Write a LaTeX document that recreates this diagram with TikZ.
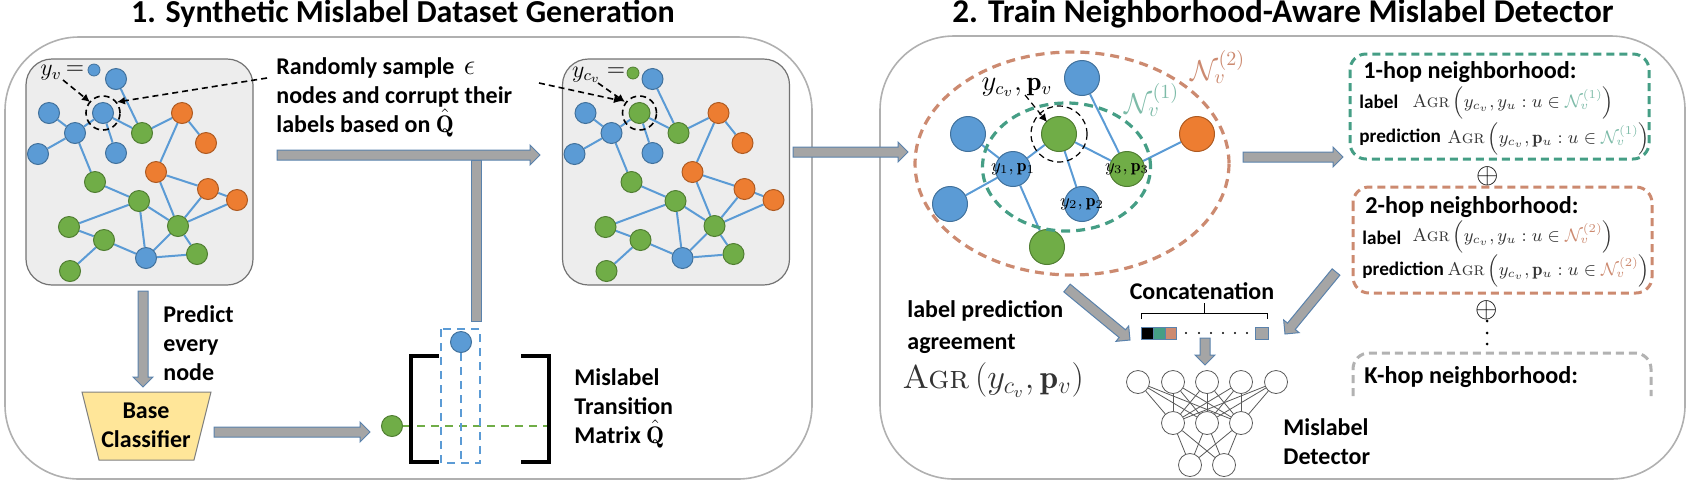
\documentclass[tikz,border=0pt]{standalone}
\usepackage{amsmath}
\usepackage{fontspec}
\usetikzlibrary{shapes.geometric,arrows.meta,calc,backgrounds}
\newfontfamily\calib{Carlito}
\definecolor{nblue}{HTML}{5B9BD5}
\definecolor{ngreen}{HTML}{70AD47}
\definecolor{norange}{HTML}{ED7D31}
\definecolor{bblue}{HTML}{41719C}
\definecolor{bgreen}{HTML}{507E32}
\definecolor{borange}{HTML}{AE5A21}
\definecolor{teal1}{HTML}{459E85}
\definecolor{teal2}{HTML}{7DBBA8}
\definecolor{brown1}{HTML}{CC8A70}
\definecolor{arrowf}{HTML}{A5A5A5}
\definecolor{arrowb}{HTML}{5A82AC}
\definecolor{boxg}{HTML}{EDEDED}
\definecolor{outerg}{HTML}{B0B0B0}
\definecolor{mathg}{HTML}{333333}
\definecolor{clfy}{HTML}{FFE699}
\tikzset{
  bn/.style={circle,draw=bblue,fill=nblue,line width=.5pt,minimum size=10.5pt,inner sep=0pt},
  gn/.style={circle,draw=bgreen,fill=ngreen,line width=.5pt,minimum size=10.5pt,inner sep=0pt},
  on/.style={circle,draw=borange,fill=norange,line width=.5pt,minimum size=10.5pt,inner sep=0pt},
  large/.style={minimum size=17.5pt},
  edge/.style={draw=nblue,line width=1pt},
  barrow/.style={draw=arrowb,fill=arrowf,line width=.5pt,line join=miter},
  ttl/.style={font=\calib\bfseries\fontsize{16}{18}\selectfont,inner sep=0pt},
  ttlb/.style={font=\calib\bfseries\fontsize{16.6}{18}\selectfont,inner sep=0pt},
  lbl/.style={font=\calib\bfseries\fontsize{12}{14.5}\selectfont,inner sep=0pt,align=left,anchor=west},
  hop/.style={font=\calib\bfseries\fontsize{12.1}{15}\selectfont,inner sep=0pt,anchor=west},
  sml/.style={font=\calib\bfseries\fontsize{9.6}{12}\selectfont,inner sep=0pt,anchor=west},
  mth/.style={font=\fontsize{9.2}{12}\selectfont,text=mathg,inner sep=0pt,anchor=west},
  dashcirc/.style={circle,draw=black,dash pattern=on 3pt off 2pt,line width=.8pt,inner sep=0pt},
  dasharr/.style={draw=black,line width=.8pt,dash pattern=on 3pt off 2pt,-{Latex[length=4pt,width=4pt]}},
  outer/.style={draw=outerg,line width=.8pt,rounded corners=37pt},
  hopbox/.style={line width=1.5pt,dash pattern=on 4pt off 2.5pt,rounded corners=8pt},
  nnn/.style={circle,draw=black!65,fill=white,line width=.4pt,minimum size=11.5pt,inner sep=0pt},
  nne/.style={draw=black!65,line width=.4pt},
  cell/.style={draw=arrowb,line width=.5pt},
  nlab/.style={text=black,font=\fontsize{8.8}{10}\selectfont}
}
\newcommand{\bigarrow}[2]{%
  \coordinate (hd) at ($(#2)!5pt!(#1)$);
  \draw[barrow] ($(#1)!2.5pt!90:(#2)$) -- ($(hd)!2.5pt!90:(#2)$) -- ($(hd)!5pt!90:(#2)$) -- (#2)
    -- ($(hd)!5pt!-90:(#2)$) -- ($(hd)!2.5pt!-90:(#2)$) -- ($(#1)!2.5pt!-90:(#2)$) -- cycle;}
\newcommand{\netgraph}[1]{%
  \node[bn] (a1) at (116,79) {};
  \node[bn] (b2) at (49,113) {};
  \node[#1] (b3) at (103,113) {};
  \node[bn] (b4) at (75,133) {};
  \node[bn] (b5) at (38,154) {};
  \node[bn] (b6) at (116,153) {};
  \node[gn] (g1) at (142,133) {};
  \node[on] (o1) at (182,113) {};
  \node[on] (o2) at (206,143) {};
  \node[on] (o3) at (156,172) {};
  \node[on] (o4) at (208,189) {};
  \node[on] (o5) at (237,200) {};
  \node[gn] (g2) at (95,182) {};
  \node[gn] (g3) at (139,201) {};
  \node[gn] (g4) at (178,226) {};
  \node[gn] (g5) at (69,227) {};
  \node[gn] (g6) at (104,240) {};
  \node[bn] (b7) at (146,258) {};
  \node[gn] (g7) at (197,254) {};
  \node[gn] (g8) at (70,271) {};
  \begin{scope}[on background layer]
    \draw[draw=black!55,fill=boxg,line width=.6pt,rounded corners=13pt] (26,59) rectangle (253,285);
    \foreach \u/\v in {a1/g1,b2/b4,b3/b4,b3/g1,b3/b6,b4/b5,b4/g2,g1/o1,o1/o2,o1/o3,o3/o4,o3/g4,o4/o5,o4/g4,o5/g4,g2/g3,g3/g5,g3/g4,g3/b7,g4/b7,g4/g7,g5/g6,g6/g8,g6/b7,b7/g7}
      \draw[edge] (\u) -- (\v);
  \end{scope}
  \node[dashcirc,minimum size=17pt] (dc) at (b3) {};}
\begin{document}
\begin{tikzpicture}[x=0.5pt,y=-0.5pt]
\useasboundingbox (0,0) rectangle (1690,484);
% titles
\node[ttl] (t1) at (403,14) {1. Synthetic Mislabel Dataset Generation};
\node[ttlb] (t2) at (1283,14) {2. Train Neighborhood-Aware Mislabel Detector};
% outer boxes
\draw[outer] (5,37) rectangle (812,479);
\draw[outer] (880,36) rectangle (1685,479);
% left graph
\begin{scope}[name prefix=l-]
  \netgraph{bn}
  \node[inner sep=0pt,font=\fontsize{12}{13}\selectfont] (yv) at (51,73) {$y_v$};
  \node[inner sep=0pt,font=\fontsize{12}{13}\selectfont] (eqv) at (75,70) {$=$};
  \node[circle,draw=bblue,fill=nblue,line width=.4pt,minimum size=6pt,inner sep=0pt] (sv) at (94,70) {};
\end{scope}
\coordinate (yvs) at (63,80);
\coordinate (yve) at (90,102);
\draw[dasharr] (yvs) -- (yve);
\coordinate (rs) at (267,78);
\coordinate (re) at (117,102);
\draw[dasharr] (rs) -- (re);
% right small graph
\begin{scope}[shift={(536.5,0)},name prefix=r-]
  \netgraph{gn}
  \node[inner sep=0pt,font=\fontsize{12}{13}\selectfont] (yc) at (50,75) {$y_{c_v}$};
  \node[inner sep=0pt,font=\fontsize{12}{13}\selectfont] (eqc) at (79.5,72) {$=$};
  \node[circle,draw=bgreen,fill=ngreen,line width=.4pt,minimum size=6pt,inner sep=0pt] (sc) at (96.5,73) {};
\end{scope}
\coordinate (ycs) at (598,83);
\coordinate (yce) at (625,102);
\draw[dasharr] (ycs) -- (yce);
\coordinate (rs2) at (539,83);
\coordinate (re2) at (622,101);
\draw[dasharr] (rs2) -- (re2);
% sampling text
\node[lbl] (rtxt) at (276,97) {Randomly sample\, {\fontsize{15}{15}\selectfont$\epsilon$}\\nodes and corrupt their\\labels based on $\hat{\mathbf{Q}}$};
% T arrow
\draw[barrow] (471,160) rectangle (481,321);
\coordinate (ha) at (277,155);
\coordinate (hb) at (540,155);
\bigarrow{ha}{hb}
% predict arrow
\coordinate (pa) at (143,291);
\coordinate (pb) at (143,387);
\bigarrow{pa}{pb}
\node[lbl] (ptxt) at (163,343) {Predict\\every\\node};
% classifier
\draw[draw=black!50,fill=clfy,line width=.5pt]
  (82,392) -- (211,392) -- (194,460) -- (99,460) -- cycle;
\node[font=\calib\bfseries\fontsize{12}{14.5}\selectfont,align=center,inner sep=0pt] (clf) at (146,425) {Base\\Classifier};
\coordinate (ca) at (214,432);
\coordinate (cb) at (370,432);
\bigarrow{ca}{cb}
% matrix
\node[gn] (mg) at (392,426) {};
\node[bn] (mb) at (461,342) {};
\coordinate (mge) at (547,426);
\coordinate (mbe) at (461,463);
\draw[draw=ngreen,line width=.7pt,dash pattern=on 4pt off 3pt] (mg) -- (mge);
\draw[draw=nblue,line width=.7pt,dash pattern=on 4pt off 3pt] (mb) -- (mbe);
\draw[draw=nblue,line width=.7pt,dash pattern=on 4pt off 3pt] (441,329) rectangle (480,463);
\draw[line width=2.2pt,line cap=butt,line join=miter] (439,356) -- (411,356) -- (411,462) -- (439,462);
\draw[line width=2.2pt,line cap=butt,line join=miter] (521,356) -- (549,356) -- (549,462) -- (521,462);
\node[lbl] (mt) at (574,408) {Mislabel\\Transition\\Matrix $\hat{\mathbf{Q}}$};
% link arrow
\coordinate (la) at (793,152);
\coordinate (lb) at (908,152);
\bigarrow{la}{lb}
% right graph
\node[bn,large] (ct) at (1082,78) {};
\node[bn,large] (cl1) at (968,134) {};
\node[bn,large,label={[nlab]center:$y_1,\mathbf{p}_1$}] (c1) at (1013,169) {};
\node[bn,large] (cl2) at (950,204) {};
\node[gn,large] (cc) at (1059,134) {};
\node[bn,large,label={[nlab]center:$y_2,\mathbf{p}_2$}] (c2) at (1082,204) {};
\node[gn,large,label={[nlab]center:$y_3,\mathbf{p}_3$}] (c3) at (1127,169) {};
\node[gn,large] (cb2) at (1047,247) {};
\node[on,large] (co) at (1197,134) {};
\begin{scope}[on background layer]
  \foreach \u/\v in {ct/c3,cl1/c1,c1/cl2,c1/cc,c1/cb2,cc/c2,cc/c3,c3/co}
    \draw[edge] (\u) -- (\v);
\end{scope}
\node[ellipse,draw=teal1,line width=1.6pt,dash pattern=on 4.5pt off 3pt,minimum width=84pt,minimum height=64pt,inner sep=0pt] (e1) at (1066.5,167) {};
\node[ellipse,draw=brown1,line width=1.6pt,dash pattern=on 4.5pt off 3pt,minimum width=157pt,minimum height=111.5pt,inner sep=0pt] (e2) at (1072,163.5) {};
\node[dashcirc,minimum size=28pt,line width=.6pt] (cdc) at (cc) {};
\node[inner sep=0pt,font=\fontsize{13.5}{15}\selectfont] (ycp) at (1017,87) {$y_{c_v},\mathbf{p}_v$};
\coordinate (ycps) at (1025,95);
\coordinate (ycpe) at (1047,122);
\draw[dasharr,line width=.6pt] (ycps) -- (ycpe);
\node[inner sep=0pt,text=teal2,font=\fontsize{14}{16}\selectfont] (n1) at (1152,100) {$\mathcal{N}_v^{(1)}$};
\node[inner sep=0pt,text=brown1,font=\fontsize{14}{16}\selectfont] (n2) at (1218,67) {$\mathcal{N}_v^{(2)}$};
% graph to 1-hop
\coordinate (ga) at (1243,157);
\coordinate (gb) at (1343,157);
\bigarrow{ga}{gb}
% hop boxes
\draw[hopbox,draw=teal1] (1350,54) rectangle (1649,159);
\node[hop] (h1) at (1363,72) {1-hop neighborhood:};
\node[sml] (h1a) at (1359,102) {label};
\node[mth] (h1b) at (1412,103) {\textsc{Agr}$\,\left(y_{c_v},y_u:u\in{\color{teal2}\mathcal{N}_v^{(1)}}\right)$};
\node[sml] (h1c) at (1359,137) {prediction};
\node[mth] (h1d) at (1447,139) {\textsc{Agr}$\,\left(y_{c_v},\mathbf{p}_u:u\in{\color{teal2}\mathcal{N}_v^{(1)}}\right)$};
\node[inner sep=0pt,font=\fontsize{15}{16}\selectfont] (op1) at (1488,176) {$\oplus$};
\draw[hopbox,draw=brown1] (1353,187) rectangle (1652,293);
\node[hop] (h2) at (1365,207) {2-hop neighborhood:};
\node[sml] (h2a) at (1362,238) {label};
\node[mth] (h2b) at (1412,237) {\textsc{Agr}$\,\left(y_{c_v},y_u:u\in{\color{brown1}\mathcal{N}_v^{(2)}}\right)$};
\node[sml] (h2c) at (1362,270) {prediction};
\node[mth] (h2d) at (1447,271) {\textsc{Agr}$\,\left(y_{c_v},\mathbf{p}_u:u\in{\color{brown1}\mathcal{N}_v^{(2)}}\right)$};
\node[inner sep=0pt,font=\fontsize{15}{16}\selectfont] (op2) at (1487,310) {$\oplus$};
\foreach \yy in {321,333,344} \fill (1487,\yy) circle (.75pt);
\draw[line width=1.5pt,dash pattern=on 4pt off 2.5pt,draw=black!30,rounded corners=8pt] (1353,396) -- (1353,353) -- (1651,353) -- (1651,396);
\node[hop] (h3) at (1364,377) {K-hop neighborhood:};
% arrows to concat
\coordinate (da) at (1067,288);
\coordinate (db) at (1130,340);
\bigarrow{da}{db}
\coordinate (ea) at (1336,272);
\coordinate (eb) at (1285,334);
\bigarrow{ea}{eb}
\coordinate (fa) at (1205,338);
\coordinate (fb) at (1205,365);
\bigarrow{fa}{fb}
% concat
\node[lbl,anchor=center] (cat) at (1202,291) {Concatenation};
\draw[line width=.5pt] (1141,319) -- (1141,313) -- (1267,313) -- (1267,319);
\draw[line width=.5pt] (1204,313) -- (1204,303);
\draw[cell,fill=black] (1141,327) rectangle (1153.5,339);
\draw[cell,fill=teal1] (1153.5,327) rectangle (1165.5,339);
\draw[cell,fill=brown1] (1165.5,327) rectangle (1176.5,339);
\draw[cell,fill=arrowf] (1255,327) rectangle (1268,339);
\foreach \xx in {1186,1199,1211,1223,1235,1247} \fill (\xx,333) circle (.6pt);
% agreement
\node[lbl] (lp) at (907,327.5) {label prediction\\[1.5pt]agreement};
\node[inner sep=0pt,anchor=west,text=mathg,font=\fontsize{16.5}{19}\selectfont] (agv) at (902,380) {\textsc{Agr}$\,\left(y_{c_v},\mathbf{p}_v\right)$};
% network
\foreach \i/\xx in {1/1138,2/1173,3/1207,4/1241,5/1276} \node[nnn] (t\i) at (\xx,382) {};
\foreach \i/\xx in {1/1173,2/1207,3/1241} \node[nnn] (m\i) at (\xx,423) {};
\foreach \i/\xx in {1/1190,2/1224} \node[nnn] (u\i) at (\xx,465) {};
\begin{scope}[on background layer]
  \foreach \i in {1,...,5} \foreach \j in {1,2,3} \draw[nne] (t\i) -- (m\j);
  \foreach \i in {1,2,3} \foreach \j in {1,2} \draw[nne] (m\i) -- (u\j);
\end{scope}
\node[lbl] (md) at (1283,442) {Mislabel\\Detector};
\end{tikzpicture}
\end{document}
